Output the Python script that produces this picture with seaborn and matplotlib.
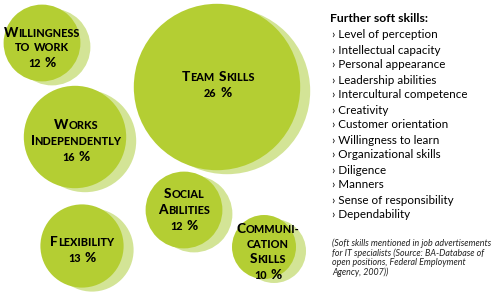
import matplotlib
matplotlib.use("Agg")
import matplotlib.pyplot as plt
import numpy as np
import pandas as pd
import seaborn as sns
from matplotlib.offsetbox import TextArea, HPacker, VPacker, AnnotationBbox

# ---------------- data ----------------
skills = ["Willingness\nto work", "Team Skills", "Works\nIndependently",
          "Social\nAbilities", "Flexibility", "Communi-\ncation\nSkills"]
percent = [12, 26, 16, 12, 13, 10]

further_title = "Further soft skills:"
further_skills = ["Level of perception", "Intellectual capacity", "Personal appearance",
                  "Leadership abilities", "Intercultural competence", "Creativity",
                  "Customer orientation", "Willingness to learn", "Organizational skills",
                  "Diligence", "Manners", "Sense of responsibility", "Dependability"]
footnote = ["(Soft skills mentioned in job advertisements",
            "for IT specialists (Source: BA-Database of",
            "open positions, Federal Employment",
            "Agency, 2007))"]

# ---------------- layout (pixels) ----------------
cx = [42, 217, 75, 184, 82, 264]
cy = [43, 87, 137, 210, 246, 247]
lx = [42, 218, 76, 184, 82, 268]
ly = [48, 85, 141, 210, 250, 252]
PX_PER_PCT = 3.2
SHADOW_DX, SHADOW_DY = 10, 4

MAIN = "#b4ce33"
SHADE = "#d3e496"

sns.set_theme(style="white")
plt.rcParams["font.family"] = ["Lato", "DejaVu Sans"]

fig = plt.figure(figsize=(5.0, 2.97), dpi=100)
ax = fig.add_axes([0, 0, 1, 1])

df = pd.DataFrame({"skill": skills, "pct": percent, "x": cx, "y": cy})
df["s"] = (2 * PX_PER_PCT * df["pct"] * 72 / 100) ** 2
df["xs"] = df["x"] + SHADOW_DX
df["ys"] = df["y"] + SHADOW_DY

sns.scatterplot(data=df, x="xs", y="ys", s=df["s"], color=SHADE, linewidth=0,
                ax=ax, zorder=1, legend=False)
sns.scatterplot(data=df, x="x", y="y", s=df["s"], color=MAIN, linewidth=0,
                ax=ax, zorder=2, legend=False)
ax.set_xlim(0, 500)
ax.set_ylim(297, 0)
ax.axis("off")

BIG, SMALL = 9.8, 7.8
LAB_FONT = ["Lato", "DejaVu Sans"]


def smallcaps_word(word):
    parts = []
    cur, cur_big = "", None
    for ch in word:
        big = ch.isupper() or ch == "%"
        if cur and big != cur_big:
            parts.append((cur, cur_big))
            cur = ""
        cur += ch
        cur_big = big
    if cur:
        parts.append((cur, cur_big))
    boxes = [TextArea(t.upper(), textprops=dict(fontsize=BIG if b else SMALL,
                                                fontweight="black", color="black",
                                                family=LAB_FONT))
             for t, b in parts]
    return HPacker(children=boxes, align="baseline", pad=0, sep=0)


def smallcaps_line(line):
    words = [smallcaps_word(w) for w in line.split(" ")]
    return HPacker(children=words, align="baseline", pad=0, sep=3.0)


for name, p, x, y in zip(skills, percent, lx, ly):
    lines = name.split("\n") + [f"{p} %"]
    vb = VPacker(children=[smallcaps_line(l) for l in lines], align="center",
                 pad=0, sep=2.8)
    ab = AnnotationBbox(vb, (x, y), xycoords="data", frameon=False,
                        box_alignment=(0.5, 0.5), pad=0, zorder=5)
    ax.add_artist(ab)

# right-hand list
ax.text(330, 19, further_title, fontsize=8.8, fontweight="bold", color="black",
        va="center", ha="left", family=["Lato", "DejaVu Sans"])
for i, s in enumerate(further_skills):
    ax.text(332, 35 + 15 * i, "\u203a " + s, fontsize=8.4, color="black",
            va="center", ha="left", family=["Lato", "DejaVu Sans"])

for i, s in enumerate(footnote):
    ax.text(332, 243 + 9.8 * i, s, fontsize=6.4, style="italic", color="#222222",
            va="center", ha="left", family=["Lato", "DejaVu Sans"])

fig.savefig("out.png", dpi=100)
